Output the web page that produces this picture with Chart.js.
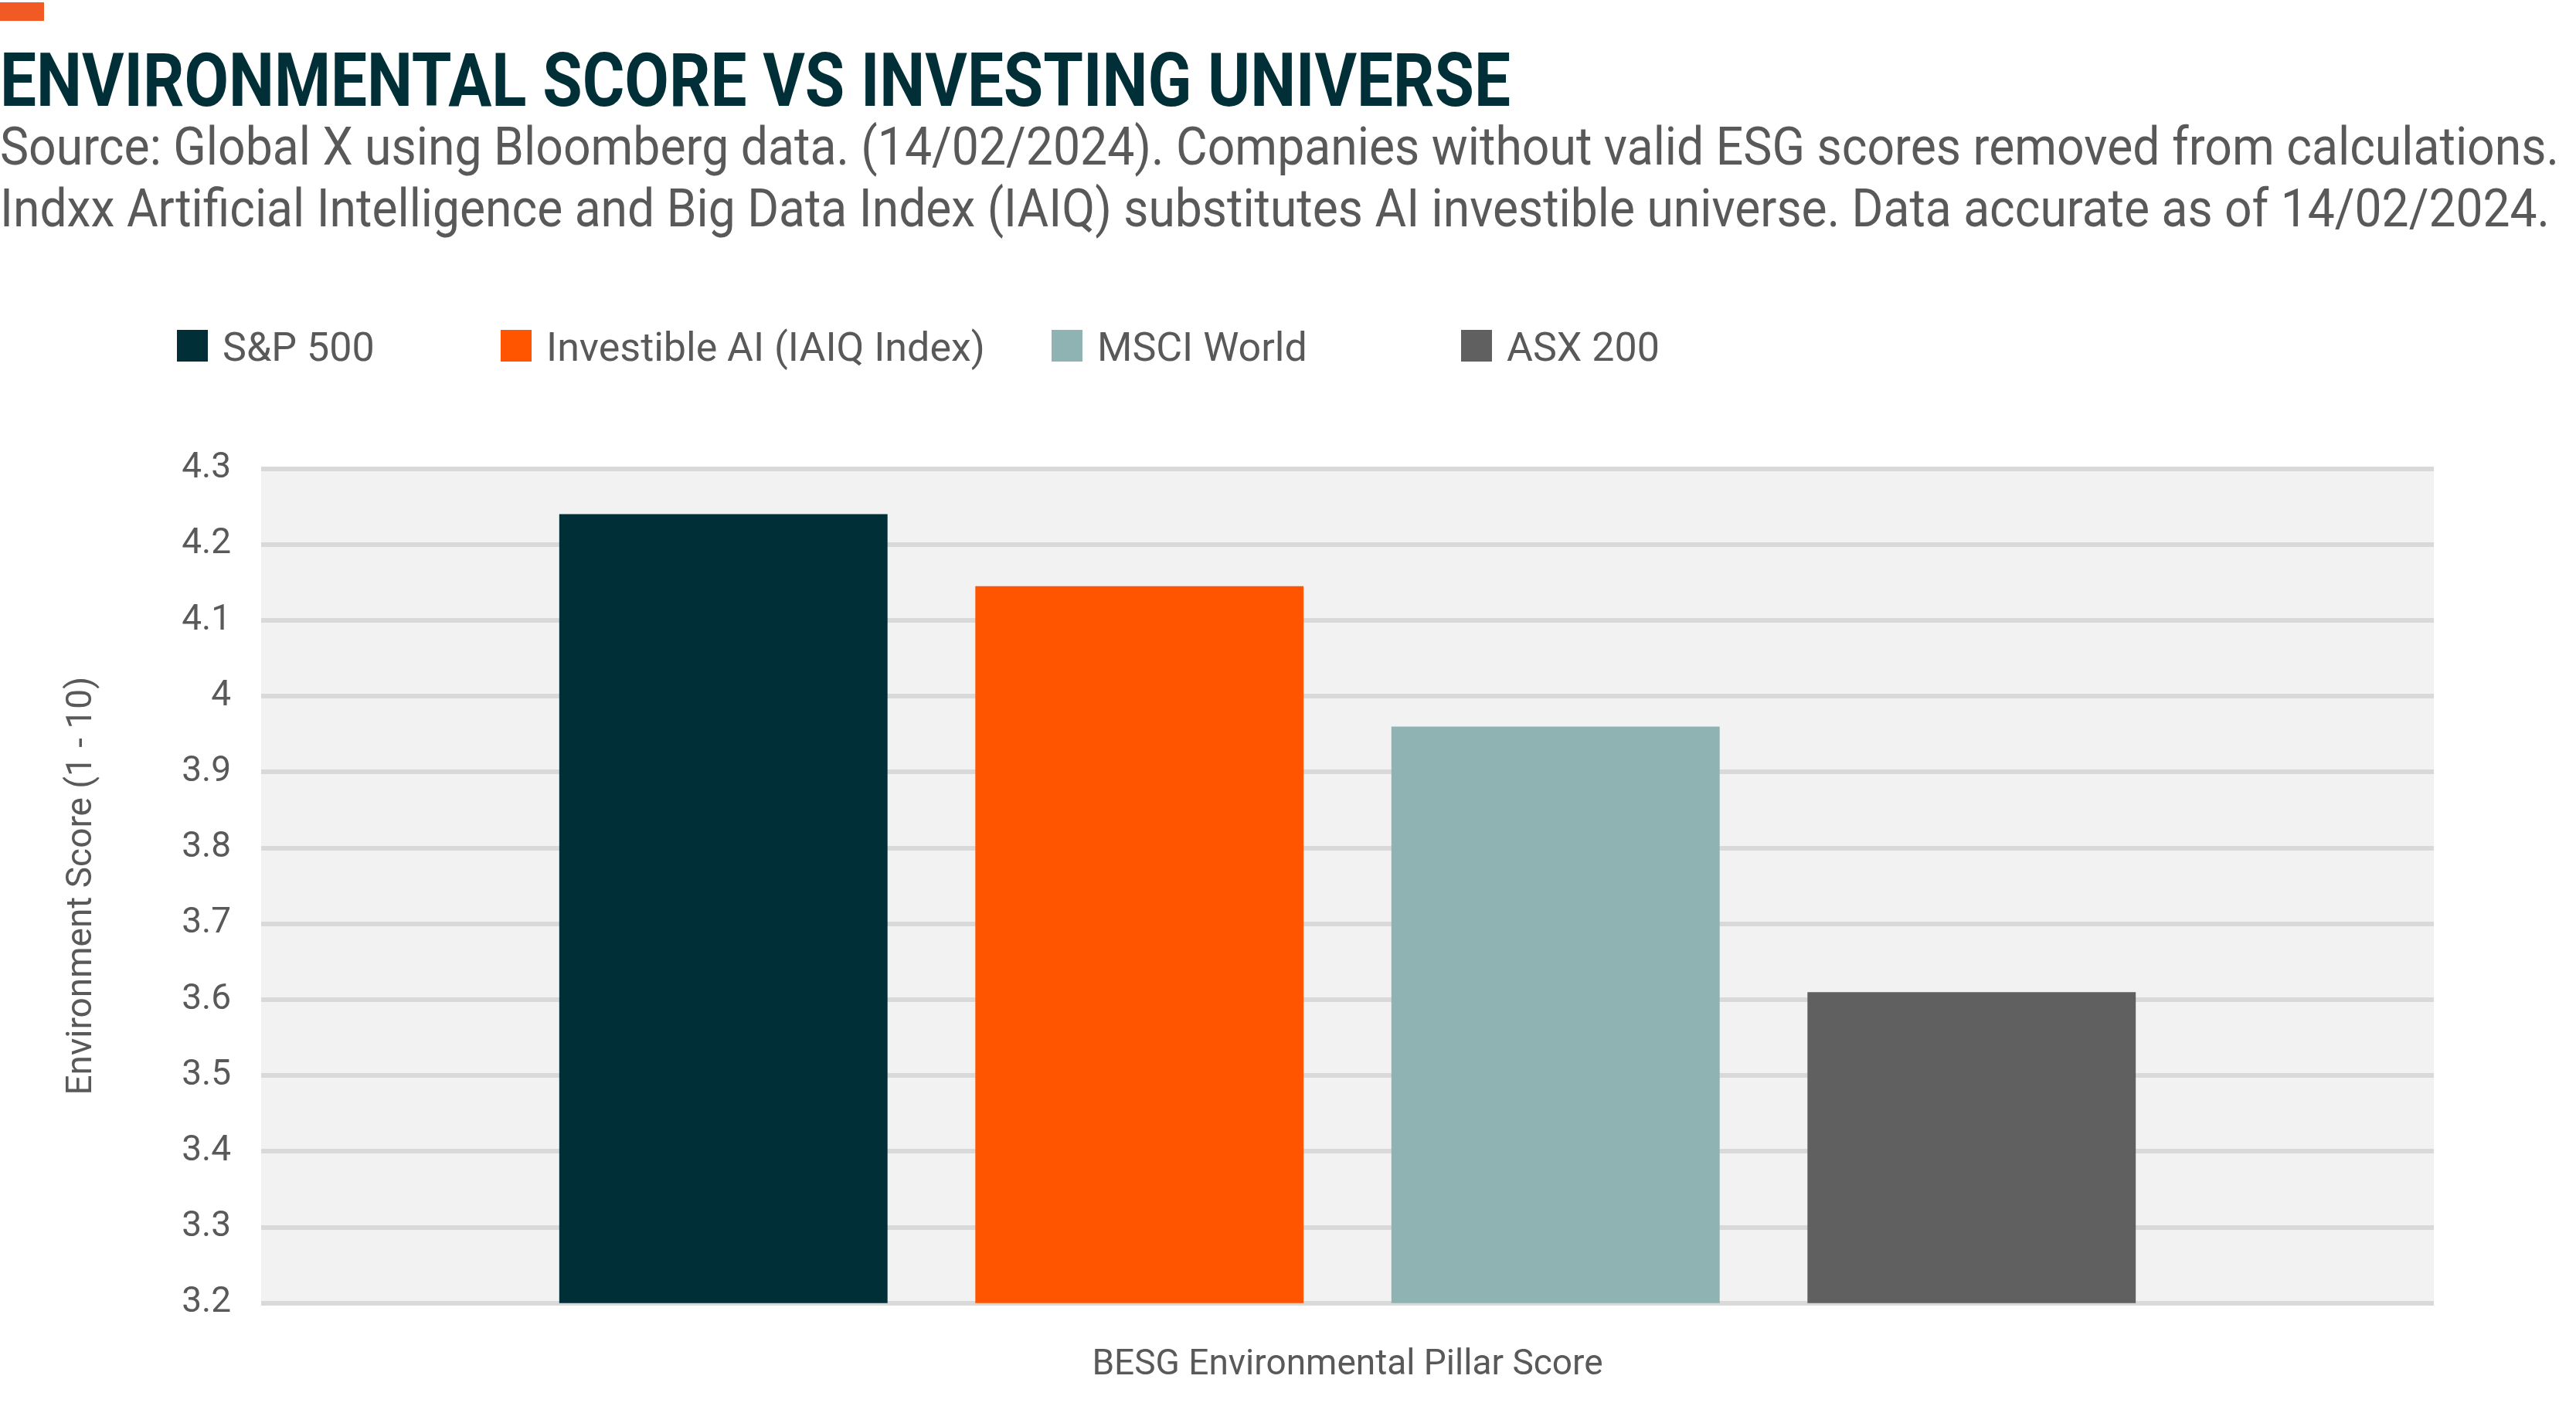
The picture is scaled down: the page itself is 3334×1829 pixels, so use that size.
<!DOCTYPE html>
<html><head><meta charset="utf-8">
<script src="https://cdn.jsdelivr.net/npm/chart.js@4"></script>
<style>
html,body{margin:0;padding:0;background:#fff;width:3334px;height:1829px;overflow:hidden;font-family:Roboto,"Noto Sans",sans-serif}
.t{position:absolute;left:0;white-space:nowrap;line-height:1;transform-origin:0 0}
#bar{position:absolute;left:0;top:3px;width:57px;height:24px;background:#f15a24}
#title{top:56px;font-size:97px;font-weight:700;color:#002f37}
.sub{font-size:68px;color:#595959}
.lg{position:absolute;top:424px;font-size:52px;line-height:1;color:#595959;white-space:nowrap}
.lg i{position:absolute;left:-59px;top:3px;width:40px;height:41px}
#wrap{position:absolute;left:0;top:540px;width:3334px;height:1289px}
</style></head><body>
<div id="bar"></div>
<div class="t" id="title" data-w="1955">ENVIRONMENTAL SCORE VS INVESTING UNIVERSE</div>
<div class="t sub" style="top:156px" data-w="3312">Source: Global X using Bloomberg data. (14/02/2024). Companies without valid ESG scores removed from calculations.</div>
<div class="t sub" style="top:236px" data-w="3300">Indxx Artificial Intelligence and Big Data Index (IAIQ) substitutes AI investible universe. Data accurate as of 14/02/2024.</div>
<div id="legend"></div>
<div id="wrap"><canvas id="c"></canvas></div>
<script>
const categories = ['BESG Environmental Pillar Score'];
const seriesNames = ['S&P 500', 'Investible AI (IAIQ Index)', 'MSCI World', 'ASX 200'];
const seriesValues = [4.24, 4.145, 3.96, 3.61];
const seriesColors = ['#002f37', '#ff5400', '#8fb2b2', '#606060'];
const legendX = [288, 707, 1420, 1950];

document.querySelectorAll('.t[data-w]').forEach(el=>{
  const w = el.getBoundingClientRect().width, target = +el.dataset.w;
  el.style.transform = 'scaleX(' + (target / w) + ')';
});
const lg = document.getElementById('legend');
seriesNames.forEach((n,i)=>{
  const d = document.createElement('div'); d.className='lg'; d.style.left = legendX[i]+'px';
  d.innerHTML = '<i style="background:'+seriesColors[i]+'"></i>'; d.appendChild(document.createTextNode(n));
  lg.appendChild(d);
});

const bgPlugin = {id:'bg', beforeDraw(ch){const a=ch.chartArea,c=ch.ctx;c.save();c.fillStyle='#f2f2f2';c.fillRect(a.left,a.top,a.right-a.left,a.bottom-a.top);c.restore();}};

new Chart(document.getElementById('c'), {
  type:'bar',
  data:{labels:[''], datasets: seriesNames.map((n,i)=>({label:n, data:[seriesValues[i]], backgroundColor:seriesColors[i], categoryPercentage:0.766, barPercentage:0.789}))},
  options:{
    responsive:true, maintainAspectRatio:false, animation:false, devicePixelRatio:1,
    layout:{padding:{left:79,right:184,top:9,bottom:0}},
    plugins:{legend:{display:false}, tooltip:{enabled:false}},
    scales:{
      x:{grid:{display:false}, border:{display:false}, ticks:{display:false},
         title:{display:true, text:categories[0], color:'#595959', font:{family:'Roboto', size:46}, padding:{top:45,bottom:34}}},
      y:{min:3.2, max:4.3, afterFit(s){s.width=259;},
         ticks:{stepSize:0.1, padding:39, color:'#595959', font:{family:'Roboto', size:46},
           callback:v=>{const r=Math.round(v*10)/10; return Number.isInteger(r)?String(r):r.toFixed(1);}},
         grid:{color:'#d9d9d9', lineWidth:6, drawTicks:false}, border:{display:false},
         title:{display:true, text:'Environment Score (1 - 10)', color:'#595959', font:{family:'Roboto', size:46}, padding:0}}
    }
  },
  plugins:[bgPlugin]
});
</script>
</body></html>
